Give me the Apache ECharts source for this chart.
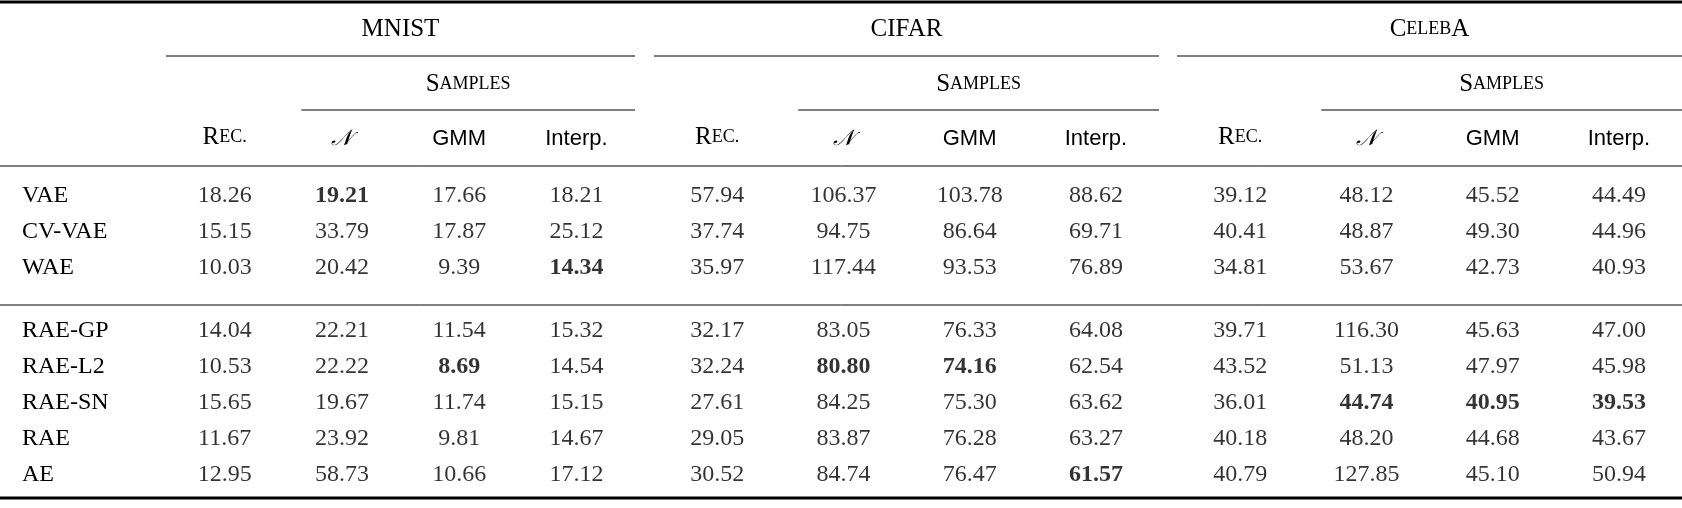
<!DOCTYPE html>
<html><head><meta charset="utf-8">
<script src="https://cdn.jsdelivr.net/npm/echarts@6/dist/echarts.min.js"></script>
<style>html,body{margin:0;background:#fff}#c{width:1682px;height:508px}</style>
</head><body><div id="c"></div>
<script>
const datasets = ['MNIST', 'CIFAR', 'CelebA'];
const columns = ['Rec.', 'N', 'GMM', 'Interp.'];
const rowsTop = ['VAE', 'CV-VAE', 'WAE'];
const rowsBottom = ['RAE-GP', 'RAE-L2', 'RAE-SN', 'RAE', 'AE'];
const mnist = [
  [18.26, 19.21, 17.66, 18.21],[15.15, 33.79, 17.87, 25.12],[10.03, 20.42, 9.39, 14.34],
  [14.04, 22.21, 11.54, 15.32],[10.53, 22.22, 8.69, 14.54],[15.65, 19.67, 11.74, 15.15],
  [11.67, 23.92, 9.81, 14.67],[12.95, 58.73, 10.66, 17.12]];
const cifar = [
  [57.94, 106.37, 103.78, 88.62],[37.74, 94.75, 86.64, 69.71],[35.97, 117.44, 93.53, 76.89],
  [32.17, 83.05, 76.33, 64.08],[32.24, 80.80, 74.16, 62.54],[27.61, 84.25, 75.30, 63.62],
  [29.05, 83.87, 76.28, 63.27],[30.52, 84.74, 76.47, 61.57]];
const celeba = [
  [39.12, 48.12, 45.52, 44.49],[40.41, 48.87, 49.30, 44.96],[34.81, 53.67, 42.73, 40.93],
  [39.71, 116.30, 45.63, 47.00],[43.52, 51.13, 47.97, 45.98],[36.01, 44.74, 40.95, 39.53],
  [40.18, 48.20, 44.68, 43.67],[40.79, 127.85, 45.10, 50.94]];
const bold = [[0,0,1],[0,2,3],[0,4,2],[1,4,1],[1,4,2],[1,7,3],[2,5,1],[2,5,2],[2,5,3]];
const values = [mnist, cifar, celeba];

const k = 1682 / 1568;
const S = v => Math.round(v * k);
const serif = 'Liberation Serif';
const spans = [[155, 592], [610, 1080], [1097, 1568]].map(s => s.map(S));
const grids = [], xAxis = [], yAxis = [], series = [], graphic = [];
const colRich = {
  sc: {fontFamily: serif, fontSize: 25, color: '#000'},
  sm: {fontFamily: serif, fontSize: 18, color: '#000'},
  sans: {fontFamily: 'Liberation Sans', fontSize: 22, color: '#000'},
  cal: {fontFamily: 'DejaVu Serif', fontSize: 22, fontStyle: 'italic', color: '#000'}
};
function colFmt(v) {
  if (v === 'Rec.') return '{sc|R}{sm|EC.}';
  if (v === 'N') return '{cal|𝒩}';
  return '{sans|' + v + '}';
}
datasets.forEach((d, di) => {
  [[rowsTop, 0, S(166), S(267)], [rowsBottom, 3, S(292), S(460)]].forEach(([rows, off, top, bot], gi) => {
    const gIdx = grids.length;
    grids.push({left: spans[di][0], width: spans[di][1] - spans[di][0], top: top, height: bot - top});
    xAxis.push({type: 'category', data: columns, gridIndex: gIdx, position: 'top',
      axisLine: {show: false}, axisTick: {show: false},
      axisLabel: {show: gi === 0, margin: 28, formatter: colFmt, rich: colRich}});
    yAxis.push({type: 'category', data: rows, inverse: true, gridIndex: gIdx,
      axisLine: {show: false}, axisTick: {show: false}, splitLine: {show: false},
      axisLabel: {show: di === 0, align: 'left', margin: spans[0][0] - 22,
        fontFamily: serif, fontSize: 24, color: '#000'}});
    const data = [];
    rows.forEach((r, ri) => {
      columns.forEach((c, ci) => {
        const v = values[di][ri + off][ci];
        const isBold = bold.some(b => b[0] === di && b[1] === ri + off && b[2] === ci);
        data.push({value: [ci, ri, v], label: {fontWeight: isBold ? 'bold' : 'normal'}});
      });
    });
    series.push({type: 'scatter', xAxisIndex: gIdx, yAxisIndex: gIdx, symbolSize: 0, data: data,
      label: {show: true, position: 'inside', fontFamily: serif, fontSize: 24, color: '#000',
        formatter: p => p.value[2].toFixed(2)}});
  });
  const cx = (spans[di][0] + spans[di][1]) / 2;
  const title = d === 'CelebA' ? '{sc|C}{sm|ELEB}{sc|A}' : '{sc|' + d + '}';
  graphic.push({type: 'text', x: cx, y: S(27), style: {text: title, rich: colRich, align: 'center', verticalAlign: 'middle'}});
  graphic.push({type: 'line', shape: {x1: spans[di][0], y1: S(52), x2: spans[di][1], y2: S(52)}, style: {stroke: '#000', lineWidth: 1}});
  const sx0 = spans[di][0] + (spans[di][1] - spans[di][0]) / 4 + 18;
  graphic.push({type: 'text', x: (sx0 + spans[di][1]) / 2, y: S(78), style: {text: '{sc|S}{sm|AMPLES}', rich: colRich, align: 'center', verticalAlign: 'middle'}});
  graphic.push({type: 'line', shape: {x1: sx0, y1: S(103), x2: spans[di][1], y2: S(103)}, style: {stroke: '#000', lineWidth: 1}});
});
const W = S(1572);
graphic.push({type: 'line', shape: {x1: 0, y1: 2, x2: W, y2: 2}, style: {stroke: '#000', lineWidth: 3}});
graphic.push({type: 'line', shape: {x1: 0, y1: S(155), x2: W, y2: S(155)}, style: {stroke: '#000', lineWidth: 1}});
graphic.push({type: 'line', shape: {x1: 0, y1: S(284), x2: W, y2: S(284)}, style: {stroke: '#000', lineWidth: 1}});
graphic.push({type: 'line', shape: {x1: 0, y1: S(464), x2: W, y2: S(464)}, style: {stroke: '#000', lineWidth: 3}});

const chart = echarts.init(document.getElementById('c'));
chart.setOption({animation: false, grid: grids, xAxis: xAxis, yAxis: yAxis, series: series, graphic: graphic});
</script></body></html>
